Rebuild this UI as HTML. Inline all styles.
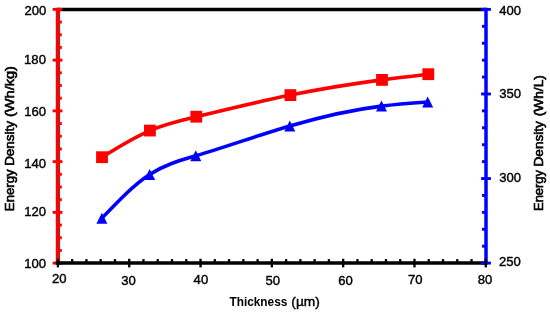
<!DOCTYPE html>
<html><head><meta charset="utf-8"><style>
html,body{margin:0;padding:0;background:#fff;width:550px;height:312px;overflow:hidden}
svg{display:block}
.t{font-family:"Liberation Sans",Arial,sans-serif;font-size:13.1px;fill:#000;stroke:#000;stroke-width:0.4px}
.b{font-family:"Liberation Sans",Arial,sans-serif;font-size:12.7px;font-weight:bold;fill:#000}
.s{font-family:"Liberation Sans",Arial,sans-serif;font-size:12.7px;fill:#000;stroke:#000;stroke-width:0.6px}
</style></head><body>
<svg width="550" height="312" viewBox="0 0 550 312">
<line x1="57.55" y1="9.4" x2="486.0" y2="9.4" stroke="#000" stroke-width="3.5"/>
<line x1="59.59" y1="9.4" x2="59.59" y2="263.1" stroke="#201018" stroke-opacity="0.85" stroke-width="1.0"/>
<line x1="57.55" y1="7.65" x2="57.55" y2="263.1" stroke="#f00" stroke-width="3.5"/>
<line x1="52.65" y1="263.10" x2="62.44" y2="263.10" stroke="#f00" stroke-width="2.9"/>
<line x1="57.55" y1="250.42" x2="61.84" y2="250.42" stroke="#f00" stroke-width="2.9"/>
<line x1="57.55" y1="237.73" x2="61.84" y2="237.73" stroke="#f00" stroke-width="2.9"/>
<line x1="57.55" y1="225.05" x2="61.84" y2="225.05" stroke="#f00" stroke-width="2.9"/>
<line x1="52.65" y1="212.36" x2="62.44" y2="212.36" stroke="#f00" stroke-width="2.9"/>
<line x1="57.55" y1="199.68" x2="61.84" y2="199.68" stroke="#f00" stroke-width="2.9"/>
<line x1="57.55" y1="186.99" x2="61.84" y2="186.99" stroke="#f00" stroke-width="2.9"/>
<line x1="57.55" y1="174.31" x2="61.84" y2="174.31" stroke="#f00" stroke-width="2.9"/>
<line x1="52.65" y1="161.62" x2="62.44" y2="161.62" stroke="#f00" stroke-width="2.9"/>
<line x1="57.55" y1="148.94" x2="61.84" y2="148.94" stroke="#f00" stroke-width="2.9"/>
<line x1="57.55" y1="136.25" x2="61.84" y2="136.25" stroke="#f00" stroke-width="2.9"/>
<line x1="57.55" y1="123.56" x2="61.84" y2="123.56" stroke="#f00" stroke-width="2.9"/>
<line x1="52.65" y1="110.88" x2="62.44" y2="110.88" stroke="#f00" stroke-width="2.9"/>
<line x1="57.55" y1="98.20" x2="61.84" y2="98.20" stroke="#f00" stroke-width="2.9"/>
<line x1="57.55" y1="85.51" x2="61.84" y2="85.51" stroke="#f00" stroke-width="2.9"/>
<line x1="57.55" y1="72.83" x2="61.84" y2="72.83" stroke="#f00" stroke-width="2.9"/>
<line x1="52.65" y1="60.14" x2="62.44" y2="60.14" stroke="#f00" stroke-width="2.9"/>
<line x1="57.55" y1="47.46" x2="61.84" y2="47.46" stroke="#f00" stroke-width="2.9"/>
<line x1="57.55" y1="34.77" x2="61.84" y2="34.77" stroke="#f00" stroke-width="2.9"/>
<line x1="57.55" y1="22.09" x2="61.84" y2="22.09" stroke="#f00" stroke-width="2.9"/>
<line x1="52.65" y1="9.40" x2="62.44" y2="9.40" stroke="#f00" stroke-width="2.9"/>
<line x1="486.0" y1="7.65" x2="486.0" y2="263.1" stroke="#00f" stroke-width="3.5"/>
<line x1="55.8" y1="263.1" x2="487.75" y2="263.1" stroke="#000" stroke-width="3.5"/>
<line x1="481.1" y1="263.10" x2="490.9" y2="263.10" stroke="#00f" stroke-width="2.9"/>
<line x1="482.0" y1="246.19" x2="486.0" y2="246.19" stroke="#00f" stroke-width="2.9"/>
<line x1="482.0" y1="229.27" x2="486.0" y2="229.27" stroke="#00f" stroke-width="2.9"/>
<line x1="482.0" y1="212.36" x2="486.0" y2="212.36" stroke="#00f" stroke-width="2.9"/>
<line x1="482.0" y1="195.45" x2="486.0" y2="195.45" stroke="#00f" stroke-width="2.9"/>
<line x1="481.1" y1="178.53" x2="490.9" y2="178.53" stroke="#00f" stroke-width="2.9"/>
<line x1="482.0" y1="161.62" x2="486.0" y2="161.62" stroke="#00f" stroke-width="2.9"/>
<line x1="482.0" y1="144.71" x2="486.0" y2="144.71" stroke="#00f" stroke-width="2.9"/>
<line x1="482.0" y1="127.79" x2="486.0" y2="127.79" stroke="#00f" stroke-width="2.9"/>
<line x1="482.0" y1="110.88" x2="486.0" y2="110.88" stroke="#00f" stroke-width="2.9"/>
<line x1="481.1" y1="93.97" x2="490.9" y2="93.97" stroke="#00f" stroke-width="2.9"/>
<line x1="482.0" y1="77.05" x2="486.0" y2="77.05" stroke="#00f" stroke-width="2.9"/>
<line x1="482.0" y1="60.14" x2="486.0" y2="60.14" stroke="#00f" stroke-width="2.9"/>
<line x1="482.0" y1="43.23" x2="486.0" y2="43.23" stroke="#00f" stroke-width="2.9"/>
<line x1="482.0" y1="26.31" x2="486.0" y2="26.31" stroke="#00f" stroke-width="2.9"/>
<line x1="481.1" y1="9.40" x2="490.9" y2="9.40" stroke="#00f" stroke-width="2.9"/>
<line x1="57.90" y1="258.8" x2="57.90" y2="267.40" stroke="#000" stroke-width="2.3"/>
<line x1="72.16" y1="259.1" x2="72.16" y2="263.1" stroke="#000" stroke-width="2.3"/>
<line x1="86.43" y1="259.1" x2="86.43" y2="263.1" stroke="#000" stroke-width="2.3"/>
<line x1="100.69" y1="259.1" x2="100.69" y2="263.1" stroke="#000" stroke-width="2.3"/>
<line x1="114.95" y1="259.1" x2="114.95" y2="263.1" stroke="#000" stroke-width="2.3"/>
<line x1="129.22" y1="258.8" x2="129.22" y2="267.40" stroke="#000" stroke-width="2.3"/>
<line x1="143.48" y1="259.1" x2="143.48" y2="263.1" stroke="#000" stroke-width="2.3"/>
<line x1="157.74" y1="259.1" x2="157.74" y2="263.1" stroke="#000" stroke-width="2.3"/>
<line x1="172.01" y1="259.1" x2="172.01" y2="263.1" stroke="#000" stroke-width="2.3"/>
<line x1="186.27" y1="259.1" x2="186.27" y2="263.1" stroke="#000" stroke-width="2.3"/>
<line x1="200.53" y1="258.8" x2="200.53" y2="267.40" stroke="#000" stroke-width="2.3"/>
<line x1="214.80" y1="259.1" x2="214.80" y2="263.1" stroke="#000" stroke-width="2.3"/>
<line x1="229.06" y1="259.1" x2="229.06" y2="263.1" stroke="#000" stroke-width="2.3"/>
<line x1="243.32" y1="259.1" x2="243.32" y2="263.1" stroke="#000" stroke-width="2.3"/>
<line x1="257.59" y1="259.1" x2="257.59" y2="263.1" stroke="#000" stroke-width="2.3"/>
<line x1="271.85" y1="258.8" x2="271.85" y2="267.40" stroke="#000" stroke-width="2.3"/>
<line x1="286.11" y1="259.1" x2="286.11" y2="263.1" stroke="#000" stroke-width="2.3"/>
<line x1="300.38" y1="259.1" x2="300.38" y2="263.1" stroke="#000" stroke-width="2.3"/>
<line x1="314.64" y1="259.1" x2="314.64" y2="263.1" stroke="#000" stroke-width="2.3"/>
<line x1="328.90" y1="259.1" x2="328.90" y2="263.1" stroke="#000" stroke-width="2.3"/>
<line x1="343.17" y1="258.8" x2="343.17" y2="267.40" stroke="#000" stroke-width="2.3"/>
<line x1="357.43" y1="259.1" x2="357.43" y2="263.1" stroke="#000" stroke-width="2.3"/>
<line x1="371.69" y1="259.1" x2="371.69" y2="263.1" stroke="#000" stroke-width="2.3"/>
<line x1="385.96" y1="259.1" x2="385.96" y2="263.1" stroke="#000" stroke-width="2.3"/>
<line x1="400.22" y1="259.1" x2="400.22" y2="263.1" stroke="#000" stroke-width="2.3"/>
<line x1="414.48" y1="258.8" x2="414.48" y2="267.40" stroke="#000" stroke-width="2.3"/>
<line x1="428.75" y1="259.1" x2="428.75" y2="263.1" stroke="#000" stroke-width="2.3"/>
<line x1="443.01" y1="259.1" x2="443.01" y2="263.1" stroke="#000" stroke-width="2.3"/>
<line x1="457.27" y1="259.1" x2="457.27" y2="263.1" stroke="#000" stroke-width="2.3"/>
<line x1="471.54" y1="259.1" x2="471.54" y2="263.1" stroke="#000" stroke-width="2.3"/>
<line x1="485.80" y1="258.8" x2="485.80" y2="267.40" stroke="#000" stroke-width="2.3"/>
<path d="M102.00,157.20 C117.97,147.26 133.93,137.33 149.90,130.55 C165.37,123.98 180.83,120.38 196.30,116.70 C227.67,109.24 259.03,101.49 290.40,95.10 C320.93,88.88 351.47,83.95 382.00,79.90 C397.43,77.85 412.87,76.03 428.30,74.20" fill="none" stroke="#f00" stroke-width="3.6"/>
<path d="M101.90,218.20 C117.80,201.53 133.70,184.85 149.60,174.50 C165.00,164.47 180.40,160.37 195.80,155.80 C227.13,146.50 258.47,135.23 289.80,126.00 C320.37,116.99 350.93,109.91 381.50,106.10 C396.90,104.18 412.30,103.09 427.70,102.00" fill="none" stroke="#00f" stroke-width="3.6"/>
<rect x="96.10" y="151.30" width="11.8" height="11.8" fill="#f00"/>
<rect x="144.00" y="124.65" width="11.8" height="11.8" fill="#f00"/>
<rect x="190.40" y="110.80" width="11.8" height="11.8" fill="#f00"/>
<rect x="284.50" y="89.20" width="11.8" height="11.8" fill="#f00"/>
<rect x="376.10" y="74.00" width="11.8" height="11.8" fill="#f00"/>
<rect x="422.40" y="68.30" width="11.8" height="11.8" fill="#f00"/>
<polygon points="101.90,212.70 107.40,223.70 96.40,223.70" fill="#00f"/>
<polygon points="149.60,169.00 155.10,180.00 144.10,180.00" fill="#00f"/>
<polygon points="195.80,150.30 201.30,161.30 190.30,161.30" fill="#00f"/>
<polygon points="289.80,120.50 295.30,131.50 284.30,131.50" fill="#00f"/>
<polygon points="381.50,100.60 387.00,111.60 376.00,111.60" fill="#00f"/>
<polygon points="427.70,96.50 433.20,107.50 422.20,107.50" fill="#00f"/>
<text transform="translate(35.40,14.66)" text-anchor="middle" class="t">200</text>
<text transform="translate(35.00,64.29)" text-anchor="middle" class="t">180</text>
<text transform="translate(35.10,115.69)" text-anchor="middle" class="t">160</text>
<text transform="translate(35.10,167.64)" text-anchor="middle" class="t">140</text>
<text transform="translate(35.10,215.54)" text-anchor="middle" class="t">120</text>
<text transform="translate(35.10,268.39)" text-anchor="middle" class="t">100</text>
<text transform="translate(510.12,15.09)" text-anchor="middle" class="t">400</text>
<text transform="translate(510.15,98.09)" text-anchor="middle" class="t">350</text>
<text transform="translate(510.20,182.29)" text-anchor="middle" class="t">300</text>
<text transform="translate(509.95,265.84)" text-anchor="middle" class="t">250</text>
<text transform="translate(59.25,283.41)" text-anchor="middle" class="t">20</text>
<text transform="translate(128.60,285.39)" text-anchor="middle" class="t">30</text>
<text transform="translate(200.88,283.99)" text-anchor="middle" class="t">40</text>
<text transform="translate(272.75,284.94)" text-anchor="middle" class="t">50</text>
<text transform="translate(345.48,285.39)" text-anchor="middle" class="t">60</text>
<text transform="translate(415.25,284.49)" text-anchor="middle" class="t">70</text>
<text transform="translate(485.00,284.24)" text-anchor="middle" class="t">80</text>
<text transform="translate(258.38,305.75) scale(0.94,1)" text-anchor="middle" class="b" style="font-size:12.6px">Thickness</text>
<text transform="translate(305.60,305.70) scale(1.06,1)" text-anchor="middle" class="t" style="font-size:13.0px">(µm)</text>
<text transform="translate(14.10,190.25) rotate(-90) scale(1.04,1)" text-anchor="middle" class="s" style="font-size:12.7px">Energy</text>
<text transform="translate(14.10,143.45) rotate(-90) scale(1.06,1)" text-anchor="middle" class="s" style="font-size:12.7px">Density</text>
<text transform="translate(14.10,91.57) rotate(-90) scale(1.15,1)" text-anchor="middle" class="s" style="font-size:12.7px">(Wh/kg)</text>
<text transform="translate(543.20,190.50) rotate(-90) scale(1.02,1)" text-anchor="middle" class="s" style="font-size:12.7px">Energy</text>
<text transform="translate(543.20,143.80) rotate(-90) scale(1.07,1)" text-anchor="middle" class="s" style="font-size:12.7px">Density</text>
<text transform="translate(543.20,95.68) rotate(-90) scale(1.08,1)" text-anchor="middle" class="s" style="font-size:12.7px">(Wh/L)</text>
</svg>
</body></html>
